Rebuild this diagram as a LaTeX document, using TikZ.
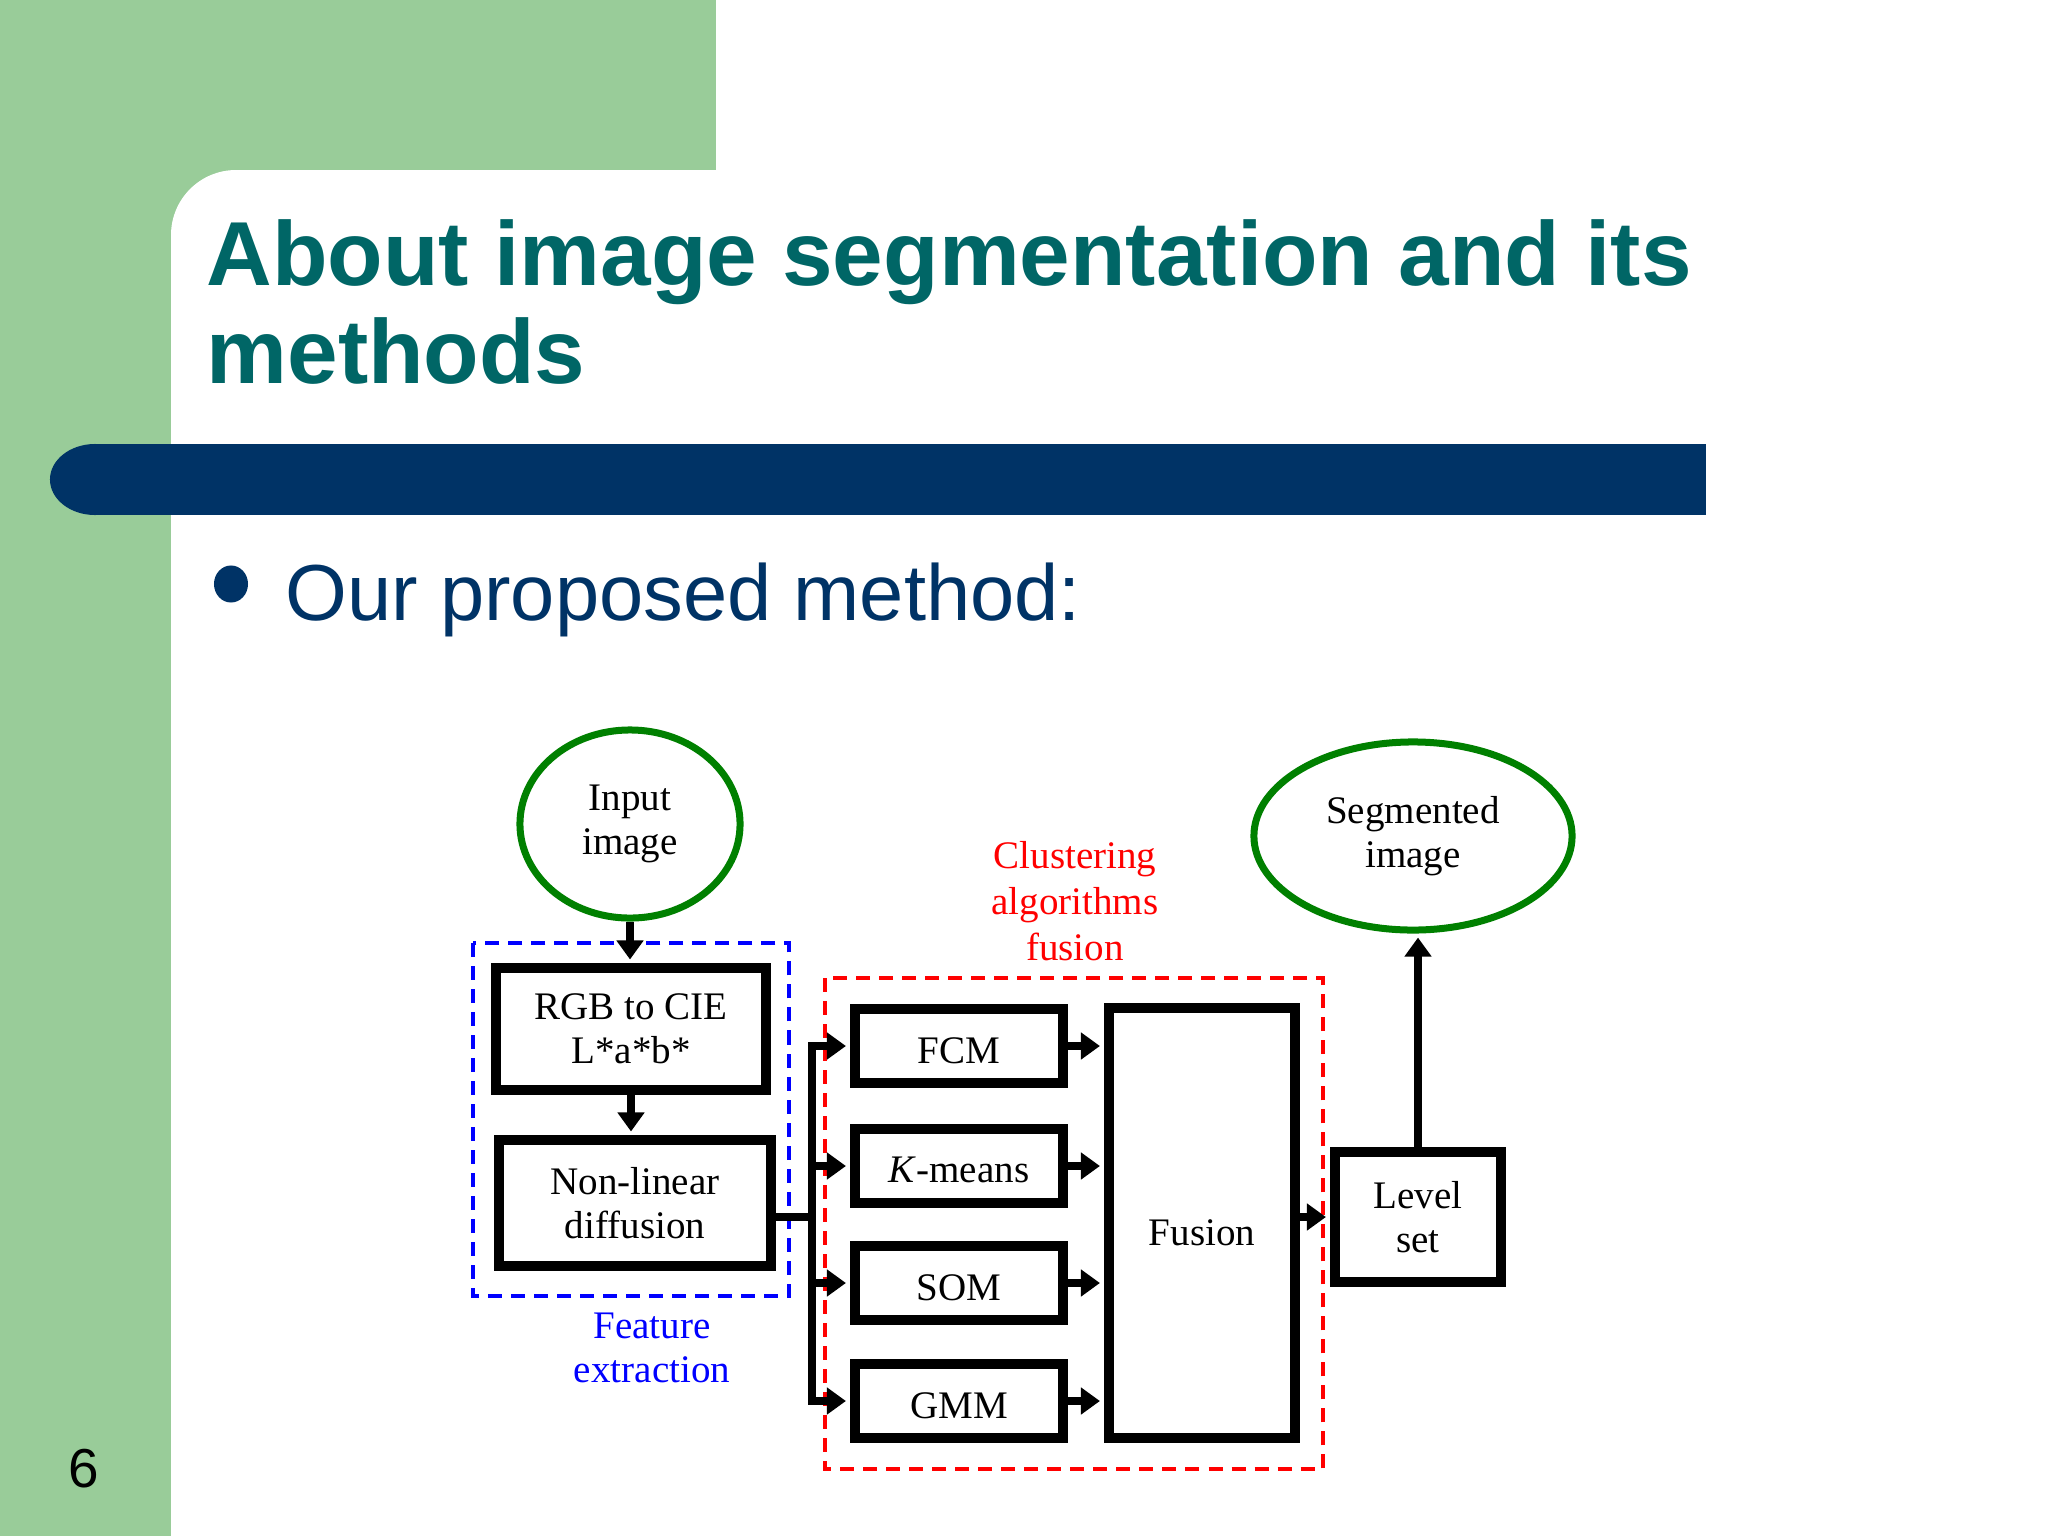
\documentclass[tikz,border=0pt]{standalone}
\usepackage{fontspec}
\setmainfont{Liberation Serif}
\setsansfont{Liberation Sans}
\newfontfamily\arialfam{Liberation Sans}
\usetikzlibrary{arrows.meta,shapes.geometric}
\definecolor{bggreen}{RGB}{153,204,153}
\definecolor{titleteal}{RGB}{0,102,102}
\definecolor{navy}{RGB}{0,51,102}
\definecolor{dgreen}{RGB}{0,128,0}
\definecolor{dblue}{RGB}{0,0,255}
\definecolor{dred}{RGB}{255,0,0}
\newcommand{\diagfont}{\fontsize{11.1}{12.6}\selectfont}
\newcommand{\lowr}[2]{\raisebox{-#1}[\height][\depth]{#2}}
\begin{document}
\begin{tikzpicture}[x=0.01cm,y=-0.01cm,
  box/.style={draw=black,line width=0.1cm,rectangle,inner sep=0pt,align=center,font=\diagfont,fill=white},
  ell/.style={draw=dgreen,line width=0.07cm,ellipse,inner sep=0pt,align=center,font=\diagfont},
  conn/.style={line width=0.075cm,-{Triangle[length=0.19cm,width=0.26cm]},shorten >=0.04cm},
  busline/.style={line width=0.075cm},
  grpbox/.style={line width=0.04cm,dash pattern=on 0.14cm off 0.09cm},
  lbl/.style={font=\diagfont,align=center,inner sep=0pt}]
\useasboundingbox (0,0) rectangle (2048,1536);
% background
\fill[white] (0,0) rectangle (2048,1536);
\fill[bggreen] (0,0) rectangle (716,170);
\fill[bggreen] (0,0) rectangle (171,1536);
\fill[bggreen] (171,170) rectangle (260,260);
\fill[white,rounded corners=0.65cm] (171,170) rectangle (2300,1800);
% navy bar
\fill[navy] (95,444) rectangle (1706,515);
\fill[navy] (95,479.5) ellipse [x radius=0.45cm, y radius=0.355cm];
% title
\node[anchor=base west,inner sep=0pt,text=titleteal,font=\arialfam\bfseries\fontsize{25.85}{28}\selectfont] (title1) at (206,285) {About image segmentation and its};
\node[anchor=base west,inner sep=0pt,text=titleteal,font=\arialfam\bfseries\fontsize{25.85}{28}\selectfont] (title2) at (206,383) {methods};
% bullet
\fill[navy] (231,584) ellipse [x radius=0.17cm, y radius=0.185cm];
\node[anchor=base west,inner sep=0pt,text=navy,font=\arialfam\fontsize{22.6}{26}\selectfont] (bullet) at (285,620) {Our proposed method:};
% page number
\node[inner sep=0pt,font=\arialfam\fontsize{15.6}{18}\selectfont] (pnum) at (84,1469) {6};
% group boxes
\draw[grpbox,draw=dblue] (473,943) rectangle (789,1296);
\draw[grpbox,draw=dred] (825,978) rectangle (1323,1469);
% nodes
\node[ell,minimum width=2.2cm,minimum height=1.88cm] (in) at (630,824) {Input\\image};
\node[box,minimum width=2.69cm,minimum height=1.21cm] (rgb) at (631,1029) {RGB to CIE\\L*a*b*};
\node[box,minimum width=2.72cm,minimum height=1.25cm] (nld) at (635,1203) {Non-linear\\diffusion};
\node[box,minimum width=2.08cm,minimum height=0.74cm] (fcm) at (959,1046) {\lowr{0.05cm}{FCM}};
\node[box,minimum width=2.08cm,minimum height=0.74cm] (km) at (959,1166) {\lowr{0.04cm}{\textit{K}-means}};
\node[box,minimum width=2.08cm,minimum height=0.74cm] (som) at (959,1283) {\lowr{0.05cm}{SOM}};
\node[box,minimum width=2.08cm,minimum height=0.74cm] (gmm) at (959,1401) {\lowr{0.05cm}{GMM}};
\node[box,minimum width=1.86cm,minimum height=4.3cm] (fus) at (1202,1223) {\lowr{0.1cm}{Fusion}};
\node[box,minimum width=1.66cm,minimum height=1.29cm] (lvl) at (1418,1217) {Level\\set};
\node[ell,minimum width=3.18cm,minimum height=1.88cm] (seg) at (1413,836) {Segmented\\image};
% labels
\node[lbl,text=dblue] (fe) at (652,1348) {Feature\\extraction};
\node[lbl,text=dred,font=\fontsize{11.1}{13.1}\selectfont] (cl) at (1075,901) {Clustering\\algorithms\\fusion};
% connectors
\coordinate (bt) at (812,1046);
\draw[conn] (in.south) -- (in.south |- rgb.north);
\draw[conn] (rgb.south) -- (rgb.south |- nld.north);
\draw[busline] ([yshift=-0.14cm]nld.east) -- ([yshift=-0.14cm]nld.east -| bt);
\draw[busline,line cap=rect] (fcm.west -| bt) -- (gmm.west -| bt);
\draw[conn] (fcm.west -| bt) -- (fcm.west);
\draw[conn] (km.west -| bt) -- (km.west);
\draw[conn] (som.west -| bt) -- (som.west);
\draw[conn] (gmm.west -| bt) -- (gmm.west);
\draw[conn] (fcm.east) -- (fcm.east -| fus.west);
\draw[conn] (km.east) -- (km.east -| fus.west);
\draw[conn] (som.east) -- (som.east -| fus.west);
\draw[conn] (gmm.east) -- (gmm.east -| fus.west);
\draw[conn] (fus.east |- lvl.west) -- (lvl.west);
\draw[conn] (lvl.north) -- (lvl.north |- seg.south);
\end{tikzpicture}
\end{document}
